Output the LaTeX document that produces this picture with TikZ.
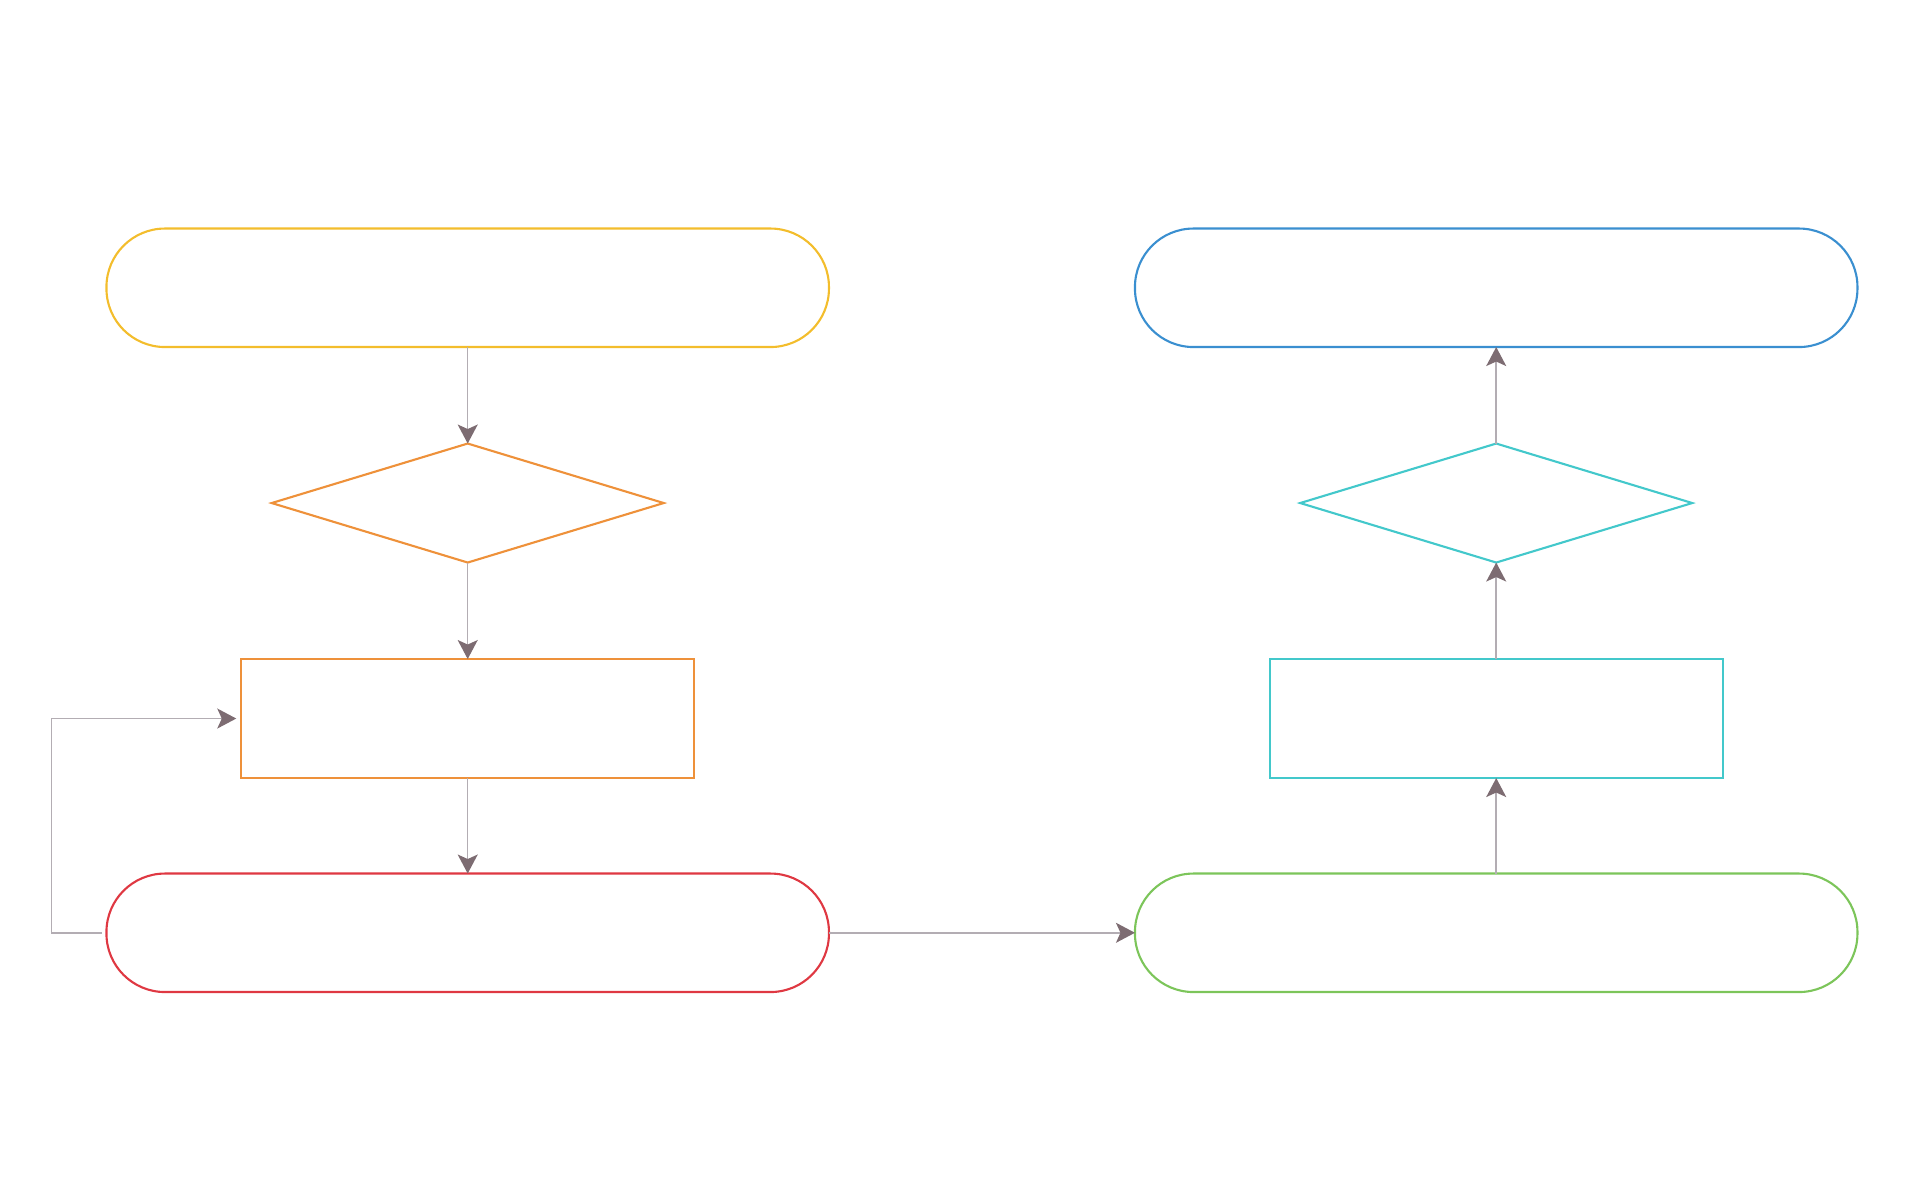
\documentclass[tikz,border=0pt]{standalone}
\usepackage{tikz}
\usetikzlibrary{arrows.meta}
\usetikzlibrary{shapes.geometric}
\usetikzlibrary{positioning}

\definecolor{startyellow}{HTML}{F3BD2C}
\definecolor{flowblue}{HTML}{3A8FD0}
\definecolor{flowred}{HTML}{DF3842}
\definecolor{flowgreen}{HTML}{7CC55A}
\definecolor{flowcyan}{HTML}{43C8CB}
\definecolor{floworange}{HTML}{EE913A}
\definecolor{linkgray}{HTML}{B3ADB3}
\definecolor{tipgray}{HTML}{7D6C72}

\tikzset{
    terminal/.style = {rectangle, rounded corners = 0.585cm, minimum width = 7.225cm, minimum height = 1.185cm, line width = 0.6pt, inner sep = 0pt, outer sep = 0pt},
    decision/.style = {diamond, minimum width = 3.92cm, minimum height = 1.19cm, line width = 0.6pt, inner sep = 0pt, outer sep = 0pt},
    process/.style = {rectangle, minimum width = 4.53cm, minimum height = 1.19cm, line width = 0.6pt, inner sep = 0pt, outer sep = 0pt},
    link/.style = {draw = linkgray, line width = 0.45pt, -{Stealth[length = 0.19cm, width = 0.2cm, inset = 0.045cm, color = tipgray]}}
}

\begin{document}
\begin{tikzpicture}
            \useasboundingbox (0, 0) rectangle (19.2, 11.95);
            % left column
            \node [terminal, draw = startyellow] (start) at (4.677, 9.072) {};
            \node [decision, draw = floworange, below = 0.965cm of start] (checkA) {};
            \node [process, draw = floworange, below = 0.965cm of checkA] (workA) {};
            \node [terminal, draw = flowred, below = 0.955cm of workA] (loopend) {};
            % right column
            \node [terminal, draw = flowgreen, right = 3.06cm of loopend] (nextstep) {};
            \node [process, draw = flowcyan, above = 0.955cm of nextstep] (workB) {};
            \node [decision, draw = flowcyan, above = 0.965cm of workB] (checkB) {};
            \node [terminal, draw = flowblue, above = 0.965cm of checkB] (finish) {};
            % connectors
            \draw [link] (start) -- (checkA);
            \draw [link] (checkA) -- (workA);
            \draw [link] (workA) -- (loopend);
            \draw [link, shorten <= 1.2pt, shorten >= 1.4pt] (loopend.west) -- ++(-0.55, 0) |- (workA.west);
            \draw [link] (loopend) -- (nextstep);
            \draw [link] (nextstep) -- (workB);
            \draw [link] (workB) -- (checkB);
            \draw [link] (checkB) -- (finish);
        \end{tikzpicture}
\end{document}
